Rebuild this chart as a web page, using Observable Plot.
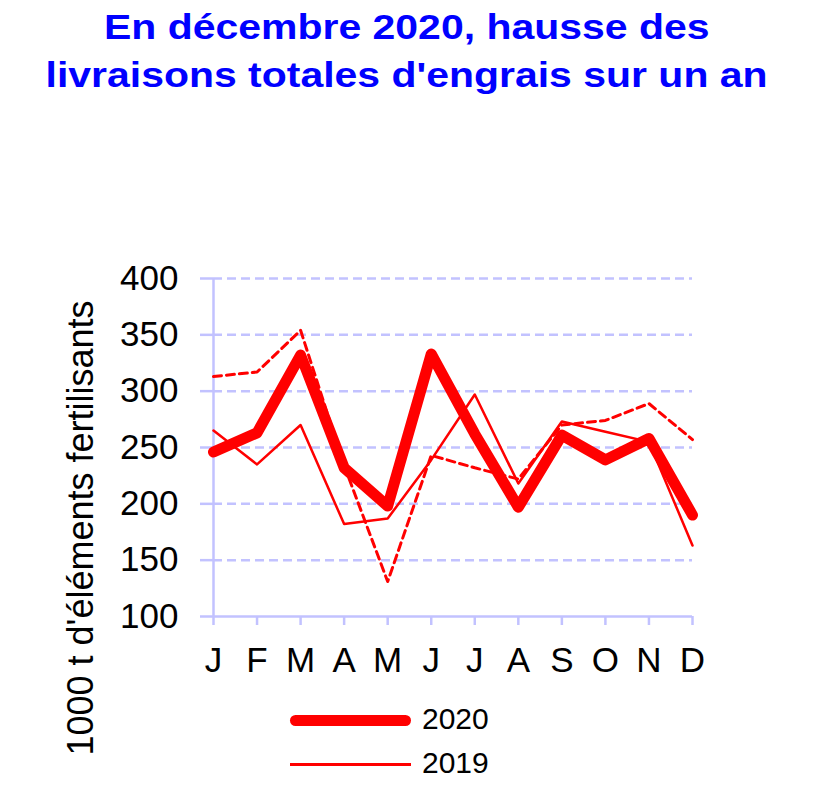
<!DOCTYPE html>
<html>
<head>
<meta charset="utf-8">
<script src="https://cdn.jsdelivr.net/npm/d3@7"></script>
<script src="https://cdn.jsdelivr.net/npm/@observablehq/plot@0.6"></script>
<style>
  body { margin: 0; background: #fff; font-family: "Liberation Sans", Arial, sans-serif; }
  #wrap { position: relative; width: 813px; height: 787px; overflow: hidden; background: #fff; }
  #title { height: 130px; box-sizing: border-box; padding-top: 3px; margin: 0; text-align: center;
           color: #0000ff; font-weight: bold; font-size: 35px; line-height: 48px; }
  #title span { display: inline-block; transform: scaleX(1.17); white-space: nowrap; }
  #chart svg { display: block; }
  #ytitle { position: absolute; left: -219.5px; top: 508px; width: 600px; height: 40px; line-height: 40px;
            text-align: center; font-size: 36px; color: #000; transform: rotate(-90deg); white-space: nowrap; }
  .lg-line { position: absolute; left: 290px; width: 121px; background: #ff0000; }
  .lg-text { position: absolute; left: 422px; font-size: 30px; line-height: 40px; height: 40px; color: #000; }
</style>
</head>
<body>
<div id="wrap">
  <div id="title"><span>En décembre 2020, hausse des</span><br><span>livraisons totales d'engrais sur un an</span></div>
  <div id="chart"></div>
  <div id="ytitle">1000 t d'éléments fertilisants</div>
  <div class="lg-line" style="top:715px;height:11px;border-radius:5.5px;"></div>
  <div class="lg-text" style="top:699px;">2020</div>
  <div class="lg-line" style="top:763px;height:2.5px;"></div>
  <div class="lg-text" style="top:743px;">2019</div>
</div>
<script>
const months = ["J","F","M","A","M","J","J","A","S","O","N","D"];
const values2020 = [246, 263, 332, 232, 198, 333, 262, 197, 261, 239, 258, 190];
const values2019 = [265, 235, 270, 182, 187, 239, 297, 218, 273, 264, 255, 163];
const values2018 = [313, 317, 354, 234, 131, 243, 232, 222, 270, 274, 289, 257];
const yTicks = [100, 150, 200, 250, 300, 350, 400];

const idx = months.map((_, i) => i);
const toRows = (vals) => vals.map((v, i) => ({i, v}));
const rows2020 = toRows(values2020);
const rows2019 = toRows(values2019);
const rows2018 = toRows(values2018);

const lavender = "#c2c2ff";

const plot = Plot.plot({
  width: 813,
  height: 560,
  marginTop: 148,
  marginBottom: 74,
  marginLeft: 213,
  marginRight: 121,
  style: {fontFamily: "'Liberation Sans', Arial, sans-serif", background: "transparent", overflow: "visible"},
  x: {type: "point", domain: idx, padding: 0, round: false},
  y: {domain: [100, 400]},
  marks: [
    Plot.gridY(yTicks.filter(t => t > 100), {stroke: lavender, strokeOpacity: 1, strokeWidth: 2.5, strokeDasharray: "9,5"}),
    Plot.ruleY([100], {stroke: lavender, strokeWidth: 2.5}),
    Plot.ruleX([0], {stroke: lavender, strokeWidth: 2.5}),
    Plot.axisY({ticks: yTicks, tickSize: 13, tickPadding: 22, stroke: lavender, strokeWidth: 2.5, fill: "#000", fontSize: 35, label: null}),
    Plot.axisX({ticks: idx, tickFormat: i => months[i], tickSize: 9, tickPadding: 22, stroke: lavender, strokeWidth: 2.5, fill: "#000", fontSize: 35, label: null}),
    Plot.line(rows2018, {x: "i", y: "v", stroke: "#ff0000", strokeWidth: 3, strokeDasharray: "8,5"}),
    Plot.line(rows2019, {x: "i", y: "v", stroke: "#ff0000", strokeWidth: 2.5}),
    Plot.line(rows2020, {x: "i", y: "v", stroke: "#ff0000", strokeWidth: 11, strokeLinejoin: "round", strokeLinecap: "round"})
  ]
});
document.getElementById("chart").appendChild(plot);
</script>
</body>
</html>
